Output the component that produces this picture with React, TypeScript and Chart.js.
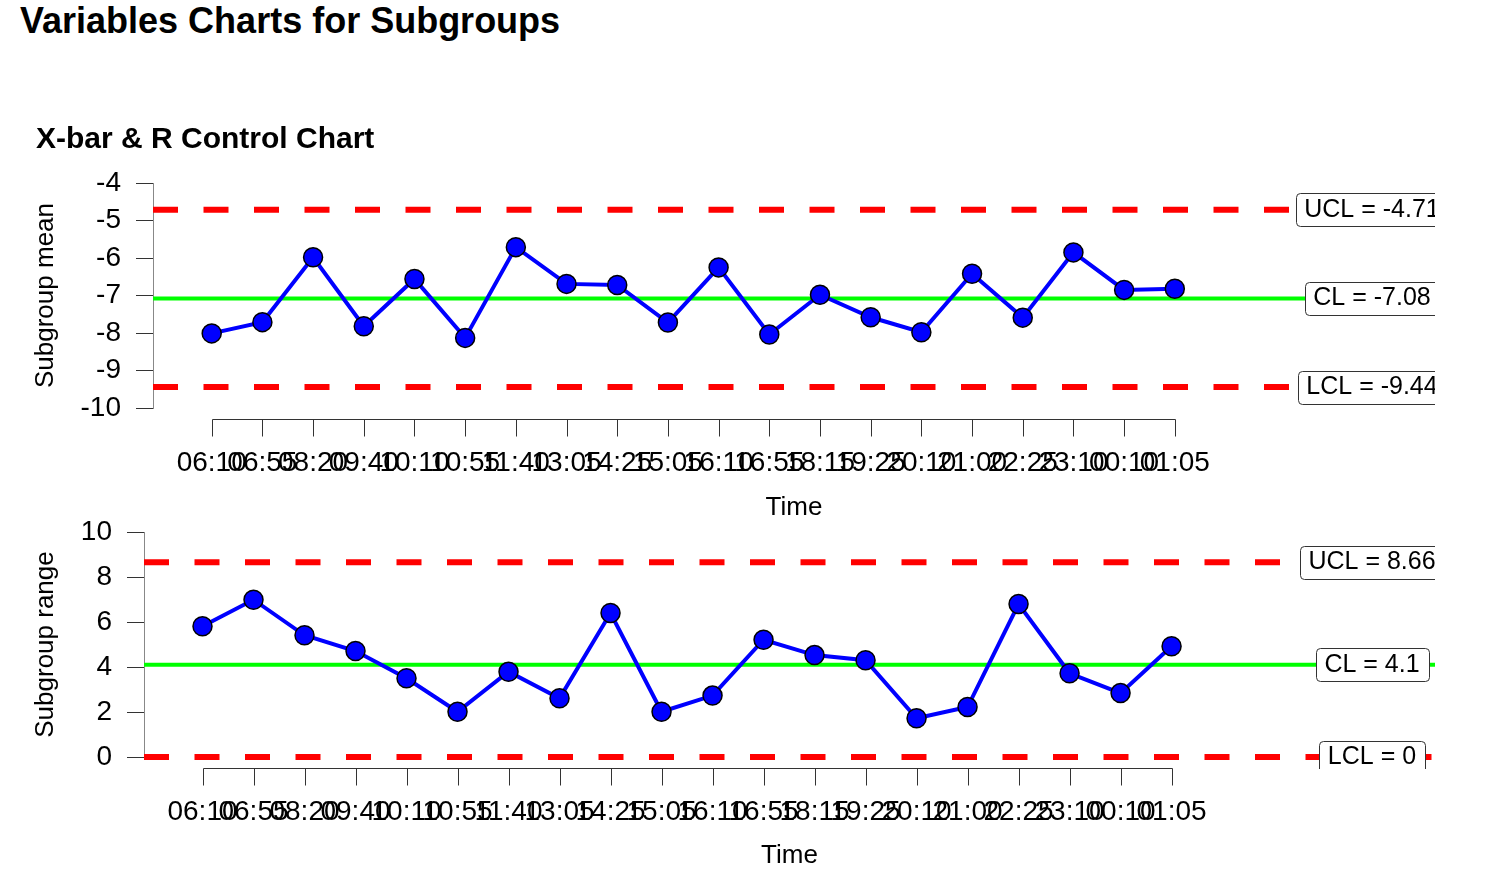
import { useEffect, useRef } from 'react';
import { Chart, registerables } from 'chart.js';

Chart.register(...registerables);

const FONT = '"Liberation Sans", Arial, Helvetica, sans-serif';

const times = [
  '06:10', '06:55', '08:20', '09:40', '10:10', '10:55', '11:40', '13:05', '14:25', '15:05',
  '16:10', '16:55', '18:15', '19:25', '20:10', '21:00', '22:25', '23:10', '00:10', '01:05',
];
const subgroupMeans = [
  -8.01, -7.71, -5.98, -7.82, -6.56, -8.13, -5.71, -6.69, -6.72, -7.72,
  -6.25, -8.04, -6.98, -7.58, -7.98, -6.42, -7.59, -5.85, -6.85, -6.82,
];
const subgroupRanges = [
  5.81, 6.99, 5.41, 4.71, 3.5, 2.01, 3.79, 2.61, 6.4, 2.01,
  2.73, 5.21, 4.53, 4.3, 1.72, 2.22, 6.8, 3.72, 2.84, 4.92,
];
const limitNames = ['UCL', 'CL', 'LCL'];
const meanLimits = [-4.71, -7.08, -9.44];
const rangeLimits = [8.66, 4.1, 0];
const meanTicks = [-10, -9, -8, -7, -6, -5, -4];
const rangeTicks = [0, 2, 4, 6, 8, 10];

interface Props {
  values: number[]
  limits: number[]
  yTicks: number[]
  yTitle: string
  top: number
  height: number
  padTop: number
  yWidth: number
  xHeight: number
  xMin: number
  xMax: number
  labelPad: number
  titlePad: number
}

const ControlChart = (props: Props) => {
  const ref = useRef<HTMLCanvasElement>(null)
  const chart = useRef<Chart>()

  useEffect(() => {
    if (!ref.current) return
    const { values, limits, xMin, xMax } = props

    // R style x axis: line only from first to last subgroup, set below the plot
    const rAxis = {
      id: 'rAxis',
      afterDraw(c: any) {
        const { ctx, chartArea: a, scales: { x } } = c
        const y0 = Math.round(a.bottom + 11) + 0.5
        ctx.save()
        ctx.strokeStyle = '#333'
        ctx.lineWidth = 1
        ctx.beginPath()
        ctx.moveTo(Math.round(x.getPixelForValue(0)) + 0.5, y0)
        ctx.lineTo(Math.round(x.getPixelForValue(values.length - 1)) + 0.5, y0)
        values.forEach((_, i) => {
          const px = Math.round(x.getPixelForValue(i)) + 0.5
          ctx.moveTo(px, y0)
          ctx.lineTo(px, y0 + 17)
        })
        ctx.stroke()
        ctx.restore()
      }
    }

    const limitLabels = {
      id: 'limitLabels',
      afterDatasetsDraw(c: any) {
        const { ctx, chartArea: a, scales: { y } } = c
        ctx.save()
        ctx.beginPath()
        ctx.rect(a.left, a.top - 12, a.right - a.left, a.bottom - a.top + 24)
        ctx.clip()
        ctx.font = `25px ${FONT}`
        ctx.textBaseline = 'middle'
        ctx.textAlign = 'center'
        limits.forEach((v, i) => {
          const text = `${limitNames[i]} = ${v}`
          const w = ctx.measureText(text).width
          const cx = a.right - 63
          const cy = y.getPixelForValue(v)
          const x0 = cx - w / 2 - 8.5
          const x1 = cx + w / 2 + 9.5
          ctx.beginPath()
          ctx.roundRect(Math.round(x0) + 0.5, Math.round(cy - 16.5) + 0.5, Math.round(x1 - x0), 33, 4)
          ctx.fillStyle = '#fff'
          ctx.fill()
          ctx.lineWidth = 1
          ctx.strokeStyle = '#333'
          ctx.stroke()
          ctx.fillStyle = '#000'
          ctx.fillText(text, cx, cy)
        })
        ctx.restore()
      }
    }

    const limitSet = (v: number, i: number) => ({
      data: [{ x: xMin, y: v }, { x: xMax, y: v }],
      borderColor: i === 1 ? '#00ff00' : '#ff0000',
      borderWidth: i === 1 ? 4 : 6,
      borderDash: i === 1 ? [] : [25, 25.5],
      borderCapStyle: 'butt',
      pointRadius: 0,
      clip: false,
      order: 2,
    })

    chart.current = new Chart(ref.current, {
      type: 'line',
      data: {
        datasets: [
          {
            data: values.map((y, i) => ({ x: i, y })),
            borderColor: '#0000ff',
            borderWidth: 4,
            pointRadius: 9.5,
            pointBackgroundColor: '#0000ff',
            pointBorderColor: '#000',
            pointBorderWidth: 1.5,
            order: 0,
          },
          ...limits.map(limitSet),
        ] as any,
      },
      options: {
        responsive: false,
        animation: false,
        events: [],
        layout: { padding: { top: props.padTop, right: 52, left: 0, bottom: 0 } },
        plugins: {
          legend: { display: false },
          tooltip: { enabled: false },
        },
        scales: {
          x: {
            type: 'linear',
            min: xMin,
            max: xMax,
            afterBuildTicks: (s: any) => { s.ticks = times.map((_, i) => ({ value: i })) },
            afterFit: (s: any) => { s.height = props.xHeight },
            grid: { display: false },
            border: { display: false },
            ticks: {
              autoSkip: false,
              maxRotation: 0,
              minRotation: 0,
              padding: props.labelPad,
              color: '#000',
              font: { family: FONT, size: 28 },
              callback: (v: any) => times[v],
            },
            title: {
              display: true,
              text: 'Time',
              color: '#000',
              font: { family: FONT, size: 26 },
              padding: { top: 0, bottom: props.titlePad },
            },
          },
          y: {
            type: 'linear',
            min: props.yTicks[0],
            max: props.yTicks[props.yTicks.length - 1],
            afterBuildTicks: (s: any) => { s.ticks = props.yTicks.map(v => ({ value: v })) },
            afterFit: (s: any) => { s.width = props.yWidth },
            grid: { drawOnChartArea: false, drawTicks: true, tickLength: 17, tickColor: '#333' },
            border: { display: true, color: '#888', width: 1 },
            ticks: {
              autoSkip: false,
              padding: 15,
              color: '#000',
              font: { family: FONT, size: 28 },
            },
            title: {
              display: true,
              text: props.yTitle,
              color: '#000',
              font: { family: FONT, size: 26 },
              padding: { top: 30, bottom: 0 },
            },
          },
        },
      },
      plugins: [rAxis, limitLabels],
    } as any)

    return () => {
      if (chart.current) {
        chart.current.destroy()
      }
    }
  }, [props])

  return <canvas
    ref={ref}
    width={1487}
    height={props.height}
    style={{ position: 'absolute', left: 0, top: props.top, width: 1487, height: props.height, display: 'block' }}
  />
}

const meanProps: Props = {
  values: subgroupMeans, limits: meanLimits, yTicks: meanTicks, yTitle: 'Subgroup mean',
  top: 150, height: 377, padTop: 33, yWidth: 153, xHeight: 119,
  xMin: -1.158, xMax: 24.133, labelPad: 30, titlePad: 4,
}
const rangeProps: Props = {
  values: subgroupRanges, limits: rangeLimits, yTicks: rangeTicks, yTitle: 'Subgroup range',
  top: 500, height: 371, padTop: 32, yWidth: 144, xHeight: 114,
  xMin: -1.147, xMax: 24.165, labelPad: 30, titlePad: 0,
}

export default function App() {
  return (
    <div style={{ position: 'absolute', left: 0, top: 0, width: 1487, height: 871, background: '#fff', overflow: 'hidden' }}>
      <div style={{ position: 'absolute', left: 20, top: 3, font: `bold 36px/36px ${FONT}`, whiteSpace: 'nowrap', color: '#000' }}>
        Variables Charts for Subgroups
      </div>
      <ControlChart {...meanProps} />
      <ControlChart {...rangeProps} />
      <div style={{ position: 'absolute', left: 36, top: 123, font: `bold 30px/30px ${FONT}`, whiteSpace: 'nowrap', color: '#000' }}>
        X-bar &amp; R Control Chart
      </div>
    </div>
  )
}
